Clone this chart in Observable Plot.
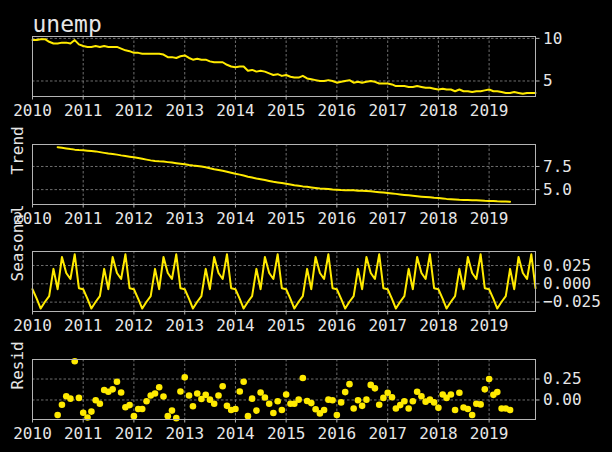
<!DOCTYPE html>
<html>
<head>
<meta charset="utf-8">
<script src="https://cdn.jsdelivr.net/npm/d3@7"></script>
<script src="https://cdn.jsdelivr.net/npm/@observablehq/plot@0.6"></script>
<style>
  html, body { margin: 0; padding: 0; background: #000; }
  #chart { position: relative; width: 612px; height: 452px; background: #000; overflow: hidden; }
  #chart svg { position: absolute; left: 0; overflow: visible; }
</style>
</head>
<body>
<div id="chart"></div>
<script>
const title = "unemp";
const panelLabels = ["", "Trend", "Seasonal", "Resid"];
const yearTicks = [2010, 2011, 2012, 2013, 2014, 2015, 2016, 2017, 2018, 2019];
const firstMonth = "2010-01-01";
const trendFirstMonth = "2010-07-01";

// observed (monthly, Jan 2010 - Dec 2019)
const observed = [
  9.8, 9.8, 9.9, 9.9, 9.6, 9.4, 9.4, 9.5, 9.5, 9.4, 9.8, 9.3,
  9.1, 9.0, 9.0, 9.1, 9.0, 9.1, 9.0, 9.0, 9.0, 8.8, 8.6, 8.5,
  8.3, 8.3, 8.2, 8.2, 8.2, 8.2, 8.2, 8.1, 7.8, 7.8, 7.7, 7.9,
  8.0, 7.7, 7.5, 7.6, 7.5, 7.5, 7.3, 7.2, 7.2, 7.2, 6.9, 6.7,
  6.6, 6.7, 6.7, 6.2, 6.3, 6.1, 6.2, 6.1, 5.9, 5.7, 5.8, 5.6,
  5.7, 5.5, 5.4, 5.4, 5.6, 5.3, 5.2, 5.1, 5.0, 5.0, 5.1, 5.0,
  4.8, 4.9, 5.0, 5.1, 4.8, 4.9, 4.8, 4.9, 5.0, 4.9, 4.7, 4.7,
  4.7, 4.6, 4.4, 4.4, 4.4, 4.3, 4.3, 4.4, 4.3, 4.2, 4.2, 4.1,
  4.0, 4.1, 4.0, 4.0, 3.8, 4.0, 3.8, 3.8, 3.7, 3.8, 3.8, 3.9,
  4.0, 3.8, 3.8, 3.7, 3.6, 3.6, 3.7, 3.6, 3.5, 3.6, 3.6, 3.6
];

// trend (Jul 2010 - Jun 2019)
const trend = [
  9.58, 9.52, 9.45, 9.38, 9.32, 9.28, 9.25, 9.21, 9.17, 9.13, 9.05, 8.97,
  8.90, 8.84, 8.78, 8.70, 8.63, 8.56, 8.49, 8.42, 8.33, 8.24, 8.16, 8.10,
  8.06, 8.03, 7.97, 7.92, 7.86, 7.80, 7.74, 7.66, 7.60, 7.55, 7.49, 7.41,
  7.30, 7.20, 7.13, 7.03, 6.93, 6.82, 6.71, 6.62, 6.52, 6.40, 6.30, 6.20,
  6.12, 6.03, 5.93, 5.84, 5.78, 5.72, 5.64, 5.56, 5.48, 5.41, 5.35, 5.30,
  5.24, 5.18, 5.13, 5.10, 5.06, 5.01, 4.98, 4.95, 4.94, 4.94, 4.92, 4.89,
  4.87, 4.85, 4.82, 4.76, 4.72, 4.68, 4.63, 4.59, 4.54, 4.48, 4.43, 4.38,
  4.33, 4.28, 4.24, 4.21, 4.17, 4.13, 4.10, 4.05, 4.00, 3.96, 3.93, 3.90,
  3.89, 3.88, 3.86, 3.84, 3.82, 3.79, 3.77, 3.76, 3.74, 3.73, 3.71, 3.69
];

// seasonal (Jan 2010 - Dec 2019)
const seasonal = [
  -0.0074, -0.0205, -0.0338, -0.0245, -0.0167, 0.0204, -0.0074, 0.0366, 0.0148, 0.0065, 0.0403, -0.0060,
  -0.0074, -0.0205, -0.0338, -0.0245, -0.0167, 0.0204, -0.0074, 0.0366, 0.0148, 0.0065, 0.0403, -0.0060,
  -0.0074, -0.0205, -0.0338, -0.0245, -0.0167, 0.0204, -0.0074, 0.0366, 0.0148, 0.0065, 0.0403, -0.0060,
  -0.0074, -0.0205, -0.0338, -0.0245, -0.0167, 0.0204, -0.0074, 0.0366, 0.0148, 0.0065, 0.0403, -0.0060,
  -0.0074, -0.0205, -0.0338, -0.0245, -0.0167, 0.0204, -0.0074, 0.0366, 0.0148, 0.0065, 0.0403, -0.0060,
  -0.0074, -0.0205, -0.0338, -0.0245, -0.0167, 0.0204, -0.0074, 0.0366, 0.0148, 0.0065, 0.0403, -0.0060,
  -0.0074, -0.0205, -0.0338, -0.0245, -0.0167, 0.0204, -0.0074, 0.0366, 0.0148, 0.0065, 0.0403, -0.0060,
  -0.0074, -0.0205, -0.0338, -0.0245, -0.0167, 0.0204, -0.0074, 0.0366, 0.0148, 0.0065, 0.0403, -0.0060,
  -0.0074, -0.0205, -0.0338, -0.0245, -0.0167, 0.0204, -0.0074, 0.0366, 0.0148, 0.0065, 0.0403, -0.0060,
  -0.0074, -0.0205, -0.0338, -0.0245, -0.0167, 0.0204, -0.0074, 0.0366, 0.0148, 0.0065, 0.0403, -0.0060
];

// residual (Jul 2010 - Jun 2019)
const resid = [
  -0.180, -0.057, 0.045, 0.016, 0.463, 0.025,
  -0.152, -0.209, -0.139, -0.004, -0.045, 0.119, 0.098, 0.127, 0.217, 0.090, -0.086, -0.061,
  -0.193, -0.107, -0.107, -0.016, 0.053, 0.078, 0.152, 0.041, -0.193, -0.127, -0.217, 0.102,
  0.270, 0.053, -0.074, 0.078, 0.012, 0.061, 0.004, -0.045, 0.053, 0.164, -0.070, -0.119,
  -0.107, 0.102, 0.217, -0.193, 0.016, -0.127, 0.090, 0.029, -0.045, -0.156, -0.016, -0.119,
  0.066, -0.045, -0.045, 0.004, 0.262, -0.012, -0.037, -0.111, -0.160, -0.119, 0.004, -0.004,
  -0.180, -0.029, 0.094, 0.189, -0.102, -0.004, -0.070, 0.004, 0.180, 0.139, -0.057, 0.025,
  0.086, 0.033, -0.102, -0.061, -0.016, -0.102, -0.016, 0.098, 0.045, -0.020, 0.004, -0.029,
  -0.094, 0.066, 0.025, 0.066, -0.119, 0.086, -0.090, -0.107, -0.180, -0.045, -0.053, 0.127,
  0.250, 0.061, 0.094, -0.102, -0.102, -0.119
];

const yTicks1 = [5, 10];
const yTicks2 = [5.0, 7.5];
const yTicks3 = [-0.025, 0.0, 0.025];
const yTicks4 = [0.0, 0.25];

// ---- build tables ----
const monthsFrom = (start, n) => d3.utcMonth.range(new Date(start), d3.utcMonth.offset(new Date(start), n));
const obsDates = monthsFrom(firstMonth, observed.length);
const trDates = monthsFrom(trendFirstMonth, trend.length);
const obsData = observed.map((v, i) => ({date: obsDates[i], value: v}));
const trendData = trend.map((v, i) => ({date: trDates[i], value: v}));
const seasData = seasonal.map((v, i) => ({date: obsDates[i], value: v}));
const residData = resid.map((v, i) => ({date: trDates[i], value: v}));
const yearDates = yearTicks.map(y => new Date(Date.UTC(y, 0, 1)));

const YELLOW = "#ffea00";
const TEXT = "#e6e6e6";
const GRID = "#8a8a8a";
const FRAME = "#b4b4b4";
const W = 612, ML = 32, MR = 77, MT = 5, MB = 30, FH = 60;
const xDomain = [obsDates[0], obsDates[obsDates.length - 1]];

function panel({top, yDomain, yTicks, fmt, label, mark, extra = []}) {
  const svg = Plot.plot({
    width: W, height: FH + MT + MB,
    marginLeft: ML, marginRight: MR, marginTop: MT, marginBottom: MB,
    style: {background: "transparent", color: TEXT, fontFamily: "'DejaVu Sans Mono', monospace", fontSize: "16px", overflow: "visible"},
    x: {type: "utc", domain: xDomain},
    y: {domain: yDomain},
    marks: [
      Plot.gridX(yearDates, {stroke: GRID, strokeOpacity: 1, strokeWidth: 0.8, strokeDasharray: "2.5,2"}),
      Plot.gridY(yTicks, {stroke: GRID, strokeOpacity: 1, strokeWidth: 0.8, strokeDasharray: "2.5,2"}),
      mark,
      Plot.frame({stroke: FRAME, strokeWidth: 1}),
      Plot.axisX(yearDates, {tickFormat: d3.utcFormat("%Y"), tickSize: 3.5, tickPadding: 5, fontSize: 16, label: null, stroke: FRAME, fill: TEXT}),
      Plot.axisY(yTicks, {anchor: "right", tickFormat: fmt, tickSize: 3.5, tickPadding: 4, fontSize: 16, label: null, stroke: FRAME, fill: TEXT}),
      label ? Plot.text([label], {frameAnchor: "left", dx: -15, rotate: -90, fontSize: 16, fill: TEXT}) : null,
      ...extra
    ]
  });
  svg.style.top = (top - MT) + "px";
  document.getElementById("chart").appendChild(svg);
}

panel({
  top: 36, yDomain: [3.18, 10.22], yTicks: yTicks1, fmt: d3.format("d"), label: panelLabels[0],
  mark: Plot.lineY(obsData, {x: "date", y: "value", stroke: YELLOW, strokeWidth: 2}),
  extra: [Plot.text([title], {frameAnchor: "top-left", textAnchor: "start", lineAnchor: "bottom", dy: -5, fontSize: 23, fill: TEXT})]
});
panel({
  top: 144, yDomain: [3.393, 9.874], yTicks: yTicks2, fmt: d3.format(".1f"), label: panelLabels[1],
  mark: Plot.lineY(trendData, {x: "date", y: "value", stroke: YELLOW, strokeWidth: 2})
});
panel({
  top: 251, yDomain: [-0.0378, 0.0441], yTicks: yTicks3, fmt: d3.format(".3f"), label: panelLabels[2],
  mark: Plot.lineY(seasData, {x: "date", y: "value", stroke: YELLOW, strokeWidth: 2})
});
panel({
  top: 359, yDomain: [-0.233, 0.483], yTicks: yTicks4, fmt: d3.format(".2f"), label: panelLabels[3],
  mark: Plot.dot(residData, {x: "date", y: "value", r: 3.3, fill: YELLOW, stroke: null})
});
</script>
</body>
</html>
